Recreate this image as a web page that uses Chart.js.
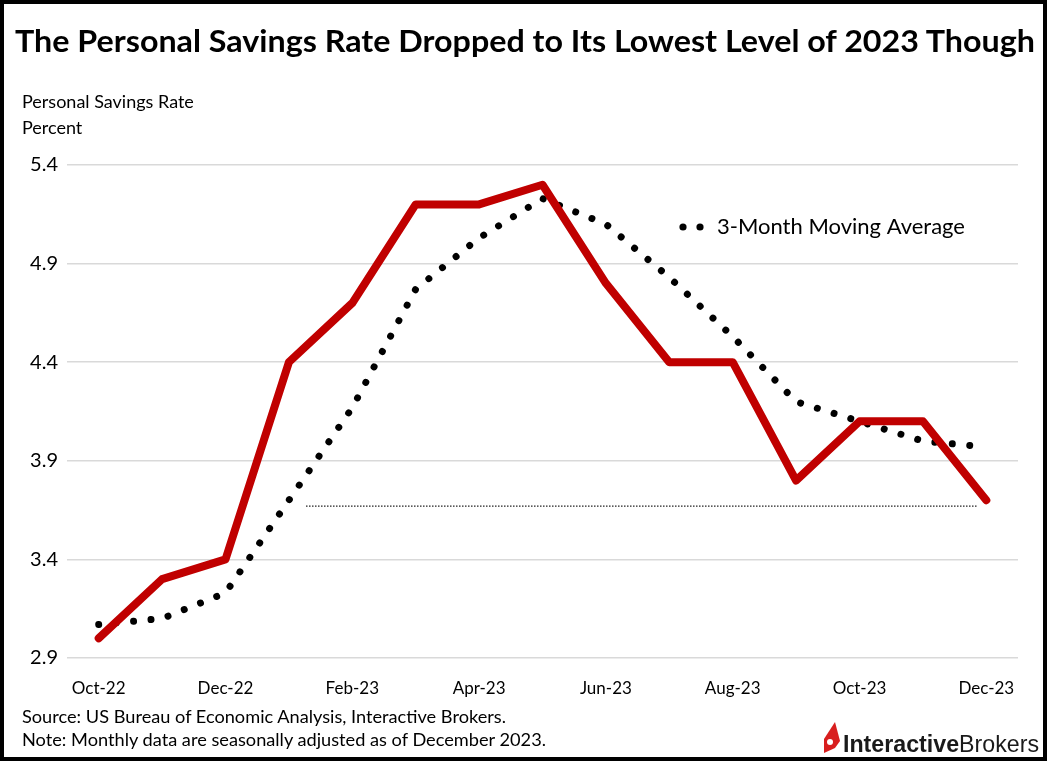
<!DOCTYPE html>
<html>
<head>
<meta charset="utf-8">
<script src="https://cdn.jsdelivr.net/npm/chart.js@4.4.1/dist/chart.umd.min.js"></script>
<style>
  body { margin: 0; background: #fff; }
  #page { position: relative; width: 1050px; height: 763px; overflow: hidden; font-family: Lato, 'Open Sans', sans-serif; color: #000; }
  #frame { position: absolute; left: 0; top: 0; width: 1047px; height: 761px; box-sizing: border-box; border: 4px solid #000; pointer-events: none; }
  #chartBox { position: absolute; left: 0; top: 0; width: 1047px; height: 761px; }
  .fit { position: absolute; white-space: nowrap; transform-origin: 0 0; }
  #title { left: 15px; top: 22px; font-weight: 700; font-size: 30px; line-height: 36px; }
  #yTitle { left: 22px; top: 88px; font-size: 18px; line-height: 26px; }
  .foot { left: 22px; font-size: 18px; line-height: 22px; }
  #logo { left: 822px; top: 722px; width: 220px; height: 34px; }
  #logoText { left: 21px; top: 8px; font-family: 'Liberation Sans', Arial, sans-serif; font-size: 24px; line-height: 27px; color: #1a1a1a; }
</style>
</head>
<body>
<div id="page">
  <div id="chartBox"><canvas id="savings"></canvas></div>
  <div id="title" class="fit" data-w="1020">The Personal Savings Rate Dropped to Its Lowest Level of 2023 Though</div>
  <div id="yTitle" class="fit">Personal Savings Rate<br>Percent</div>
  <div class="fit foot" style="top:705px" data-w="484">Source: US Bureau of Economic Analysis, Interactive Brokers.</div>
  <div class="fit foot" style="top:728px" data-w="524">Note: Monthly data are seasonally adjusted as of December 2023.</div>
  <div id="logo" class="fit">
    <svg width="20" height="34" viewBox="0 0 20 34" style="position:absolute;left:0;top:0">
      <path d="M13 0 L2 17 L2 31 L13 26 L18 19 Z" fill="#d81e1e"/>
      <circle cx="8" cy="20" r="3" fill="#fff"/>
    </svg>
    <div id="logoText" class="fit" data-w="196"><b>Interactive</b>Brokers</div>
  </div>
  <div id="frame"></div>
</div>
<script>
const months = ['Oct-22', 'Nov-22', 'Dec-22', 'Jan-23', 'Feb-23', 'Mar-23', 'Apr-23', 'May-23',
  'Jun-23', 'Jul-23', 'Aug-23', 'Sep-23', 'Oct-23', 'Nov-23', 'Dec-23']
const savingsRate = [3.0, 3.3, 3.4, 4.4, 4.7, 5.2, 5.2, 5.3, 4.8, 4.4, 4.4, 3.8, 4.1, 4.1, 3.7]
const movingAverage = [3.07, 3.1, 3.23, 3.7, 4.17, 4.77, 5.03, 5.23, 5.1, 4.83, 4.53, 4.2, 4.1, 4.0, 3.97]
const yTicks = [2.9, 3.4, 3.9, 4.4, 4.9, 5.4]
// dotted reference line: level and start/end (in month index units)
const refLevel = 3.67
const refStart = 3.27
const refEnd = 13.87

const FONT = "Lato, 'Open Sans', sans-serif"

const refLine = {
  id: 'refLine',
  beforeDatasetsDraw(chart) {
    const x = chart.scales.x
    const y = chart.scales.y
    const x0 = x.getPixelForValue(0)
    const step = x.getPixelForValue(1) - x0
    const py = y.getPixelForValue(refLevel)
    const ctx = chart.ctx
    ctx.save()
    ctx.strokeStyle = '#222'
    ctx.lineWidth = 1.3
    ctx.setLineDash([1.5, 1.5])
    ctx.beginPath()
    ctx.moveTo(x0 + refStart * step, py)
    ctx.lineTo(x0 + refEnd * step, py)
    ctx.stroke()
    ctx.restore()
  }
}

const dotLegend = {
  id: 'dotLegend',
  afterDatasetsDraw(chart) {
    const ds = chart.data.datasets[1]
    const area = chart.chartArea
    const ctx = chart.ctx
    const cy = area.top + 62
    ctx.save()
    ctx.fillStyle = ds.borderColor
    ;[616, 633].forEach(dx => {
      ctx.beginPath()
      ctx.arc(area.left + dx, cy, 3.6, 0, Math.PI * 2)
      ctx.fill()
    })
    ctx.fillStyle = '#000'
    ctx.font = '22px ' + FONT
    ctx.textBaseline = 'middle'
    ctx.fillText(ds.label, area.left + 650, cy)
    ctx.restore()
  }
}

Chart.defaults.font.family = FONT
Chart.defaults.color = '#000'

new Chart(document.getElementById('savings'), {
  type: 'line',
  data: {
    labels: months,
    datasets: [
      {
        label: 'Personal Savings Rate',
        data: savingsRate,
        borderColor: '#c00000',
        borderWidth: 8,
        borderCapStyle: 'round',
        borderJoinStyle: 'round',
        pointRadius: 0,
        tension: 0
      },
      {
        label: '3-Month Moving Average',
        data: movingAverage,
        borderColor: '#000',
        borderWidth: 7,
        borderCapStyle: 'round',
        borderDash: [0.01, 17.5],
        pointRadius: 0,
        tension: 0
      }
    ]
  },
  options: {
    responsive: true,
    maintainAspectRatio: false,
    animation: false,
    layout: {padding: {top: 165, right: 29, bottom: 63, left: 0}},
    plugins: {
      legend: {display: false},
      tooltip: {enabled: false}
    },
    scales: {
      x: {
        offset: true,
        afterFit: s => { s.height = 40 },
        grid: {display: false},
        border: {display: false},
        ticks: {
          autoSkip: false,
          maxRotation: 0,
          padding: 12,
          font: {size: 17},
          callback: (v, i) => (i % 2 === 0 ? months[i] : '')
        }
      },
      y: {
        min: yTicks[0],
        max: yTicks[yTicks.length - 1],
        afterFit: s => { s.width = 67 },
        afterBuildTicks: s => { s.ticks = yTicks.map(v => ({value: v})) },
        grid: {color: '#d9d9d9', lineWidth: 1.5, drawTicks: false},
        border: {display: false},
        ticks: {
          padding: 9,
          font: {size: 20},
          callback: v => v.toFixed(1)
        }
      }
    }
  },
  plugins: [refLine, dotLegend]
})

function fitText() {
  document.querySelectorAll('[data-w]').forEach(el => {
    el.style.transform = 'none'
    const w = el.getBoundingClientRect().width
    if (w > 0) el.style.transform = 'scaleX(' + (Number(el.dataset.w) / w) + ')'
  })
}
fitText()
if (document.fonts) document.fonts.ready.then(fitText)
</script>
</body>
</html>
